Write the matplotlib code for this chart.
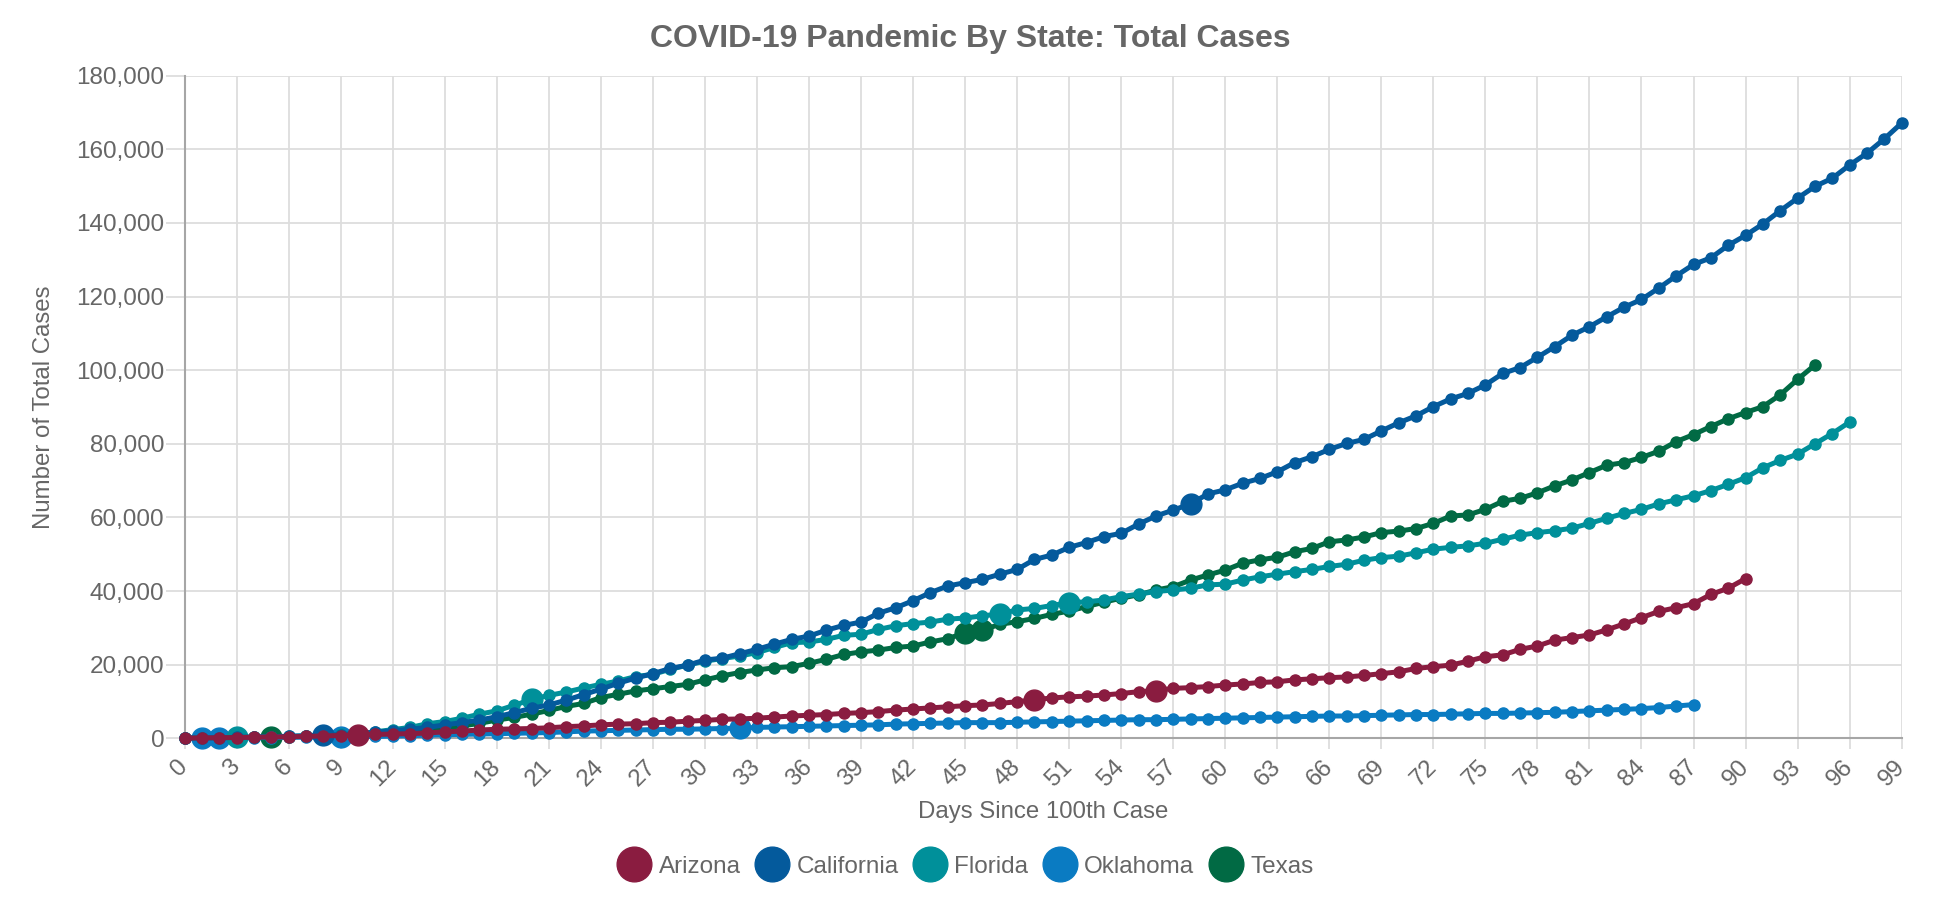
import numpy as np
import matplotlib.pyplot as plt
from matplotlib.lines import Line2D
from matplotlib.ticker import FuncFormatter

plt.rcParams['font.family'] = ['Liberation Sans', 'DejaVu Sans']

states = ['Arizona', 'California', 'Florida', 'Oklahoma', 'Texas']
colors = ['#8a1c40', '#045a9c', '#00909a', '#0a7bc2', '#016a44']

# total cases in thousands, one value per day since the 100th case
arizona = [0.10, 0.15, 0.20, 0.25, 0.32, 0.40, 0.45, 0.55, 0.70, 0.80,
           0.92, 1.1, 1.2, 1.3, 1.5, 1.8, 2.0, 2.3, 2.5, 2.6,
           2.7, 2.9, 3.2, 3.4, 3.7, 3.9, 4.0, 4.3, 4.4, 4.7,
           4.9, 5.2, 5.3, 5.5, 5.8, 6.1, 6.3, 6.5, 6.8, 7.0,
           7.3, 7.7, 8.0, 8.3, 8.6, 8.9, 9.1, 9.5, 10.0, 10.5,
           11.0, 11.3, 11.5, 11.8, 12.2, 12.7, 13.0, 13.6, 13.8, 14.1,
           14.5, 14.8, 15.2, 15.4, 15.9, 16.2, 16.5, 16.7, 17.1, 17.6,
           18.1, 19.0, 19.5, 19.9, 21.0, 22.2, 22.7, 24.2, 25.1, 26.7,
           27.4, 28.1, 29.5, 31.1, 32.8, 34.5, 35.5, 36.6, 39.1, 40.8,
           43.4]
california = [0.10, 0.15, 0.20, 0.30, 0.40, 0.50, 0.60, 0.70, 0.90, 1.05,
              1.3, 1.7, 2.1, 2.5, 3.0, 3.7, 4.3, 5.0, 5.9, 7.0,
              8.2, 9.1, 10.4, 11.9, 13.4, 15.0, 16.4, 17.6, 19.0, 19.9,
              21.3, 21.8, 23.0, 24.2, 25.6, 26.9, 27.8, 29.4, 30.7, 31.6,
              34.0, 35.5, 37.4, 39.6, 41.4, 42.3, 43.2, 44.6, 45.9, 48.6,
              49.8, 51.9, 53.2, 54.8, 55.7, 58.2, 60.4, 62.0, 63.7, 66.4,
              67.5, 69.3, 70.6, 72.4, 74.9, 76.5, 78.5, 80.1, 81.2, 83.5,
              85.7, 87.6, 90.1, 92.2, 93.7, 96.0, 99.1, 100.7, 103.5, 106.4,
              109.5, 111.8, 114.5, 117.1, 119.2, 122.3, 125.6, 128.7, 130.5, 133.9,
              136.6, 139.7, 143.3, 146.7, 149.9, 152.1, 155.7, 158.9, 162.8, 167.1]
florida = [0.10, 0.15, 0.20, 0.30, 0.35, 0.45, 0.55, 0.75, 0.90, 1.1,
           1.3, 1.8, 2.4, 3.0, 4.0, 4.6, 5.5, 6.6, 7.5, 9.0,
           10.6, 11.7, 12.6, 13.7, 14.7, 15.6, 16.8, 17.4, 18.8, 19.9,
           21.0, 21.7, 22.4, 23.3, 24.7, 26.0, 26.2, 26.9, 28.0, 28.3,
           29.6, 30.6, 31.2, 31.6, 32.4, 32.7, 33.3, 33.8, 34.9, 35.3,
           36.1, 36.9, 37.1, 37.6, 38.5, 39.2, 39.9, 40.3, 40.8, 41.7,
           41.9, 43.0, 43.9, 44.6, 45.3, 45.9, 46.7, 47.3, 48.4, 49.1,
           49.5, 50.4, 51.4, 51.9, 52.3, 53.0, 54.1, 55.2, 55.9, 56.4,
           57.1, 58.4, 59.8, 61.1, 62.2, 63.7, 64.8, 65.9, 67.3, 69.0,
           70.8, 73.5, 75.5, 77.2, 80.0, 82.8, 85.9]
oklahoma = [0.10, 0.12, 0.15, 0.18, 0.20, 0.25, 0.30, 0.35, 0.40, 0.45,
            0.50, 0.55, 0.65, 0.75, 0.90, 1.0, 1.1, 1.2, 1.3, 1.4,
            1.5, 1.6, 1.8, 2.0, 2.1, 2.2, 2.3, 2.4, 2.5, 2.5,
            2.6, 2.7, 2.8, 3.0, 3.1, 3.2, 3.3, 3.4, 3.5, 3.6,
            3.7, 3.9, 4.0, 4.1, 4.2, 4.3, 4.3, 4.3, 4.4, 4.5,
            4.6, 4.7, 4.8, 4.9, 5.0, 5.1, 5.1, 5.2, 5.3, 5.4,
            5.5, 5.6, 5.7, 5.8, 5.9, 6.0, 6.1, 6.1, 6.2, 6.3,
            6.4, 6.5, 6.5, 6.6, 6.7, 6.8, 6.8, 6.9, 7.0, 7.1,
            7.3, 7.5, 7.7, 7.9, 8.1, 8.4, 8.8, 9.2]
texas = [0.10, 0.15, 0.20, 0.25, 0.30, 0.40, 0.50, 0.60, 0.75, 0.90,
         1.1, 1.4, 1.9, 2.1, 2.5, 3.0, 3.4, 4.1, 5.0, 5.7,
         6.6, 7.6, 8.7, 9.5, 11.1, 12.0, 12.9, 13.5, 14.1, 14.7,
         15.9, 17.0, 17.9, 18.6, 19.2, 19.5, 20.4, 21.5, 22.8, 23.5,
         24.0, 24.7, 25.1, 26.2, 27.1, 28.7, 29.4, 31.0, 31.7, 32.6,
         33.7, 34.6, 35.8, 37.0, 38.1, 39.0, 40.3, 41.2, 43.0, 44.4,
         45.7, 47.6, 48.5, 49.2, 50.7, 51.6, 53.4, 53.9, 54.7, 55.9,
         56.3, 57.0, 58.4, 60.4, 60.7, 62.2, 64.4, 65.2, 66.7, 68.6,
         70.2, 72.2, 74.2, 74.9, 76.3, 78.0, 80.6, 82.5, 84.7, 86.8,
         88.5, 90.1, 93.3, 97.5, 101.4]

# days drawn with an enlarged point
big_points = {
    'Arizona': [10, 49, 56],
    'California': [8, 58],
    'Florida': [3, 20, 47, 51],
    'Oklahoma': [1, 2, 9, 32],
    'Texas': [5, 45, 46],
}

series = [arizona, california, florida, oklahoma, texas]
grey = '#666666'

fig = plt.figure(figsize=(19.52, 9.10), dpi=100)
ax = fig.add_axes([0.0946, 0.1885, 0.8796, 0.7285])

for i, (name, vals, col) in enumerate(zip(states, series, colors)):
    y = np.array(vals) * 1000
    x = np.arange(len(y))
    z = 10 - i
    ax.plot(x, y, '-o', color=col, lw=3.6, ms=8, zorder=z, clip_on=False)
    idx = big_points[name]
    ax.plot(x[idx], y[idx], 'o', color=col, ms=15, ls='none', zorder=z, clip_on=False)

ax.set_xlim(0, 99)
ax.set_ylim(0, 180000)
ax.set_xticks(range(0, 100, 3))
ax.set_yticks(range(0, 180001, 20000))
ax.yaxis.set_major_formatter(FuncFormatter(lambda v, p: f'{int(v):,}'))
ax.set_xticklabels([str(d) for d in range(0, 100, 3)], rotation=45,
                   ha='right', va='center', rotation_mode='anchor')

ax.grid(True, color='#dddddd', lw=1.3, zorder=0)
ax.set_axisbelow(True)
for s in ['top', 'right']:
    ax.spines[s].set_visible(False)
for s in ['left', 'bottom']:
    ax.spines[s].set_color('#a6a6a6')
    ax.spines[s].set_linewidth(1.5)
ax.tick_params(axis='y', length=14, color='#dddddd', width=1.3, pad=0.5,
               labelsize=17.5, labelcolor=grey)
ax.tick_params(axis='x', length=8, color='#dddddd', width=1.3, pad=10,
               labelsize=17.5, labelcolor=grey)

fig.text(0.497, 0.9575, 'COVID-19 Pandemic By State: Total Cases', ha='center',
         va='center', fontsize=23, fontweight='bold', color=grey)
fig.text(0.0225, 0.552, 'Number of Total Cases', rotation=90, ha='center',
         va='center', fontsize=17.3, color=grey)
fig.text(0.5343, 0.1075, 'Days Since 100th Case', ha='center', va='center',
         fontsize=17.3, color=grey)

handles = [Line2D([], [], marker='o', ls='none', color=c, ms=25) for c in colors]
fig.legend(handles, states, loc='center', bbox_to_anchor=(0.4955, 0.0478),
           ncol=5, frameon=False, fontsize=17.5, labelcolor=grey,
           handletextpad=0.45, columnspacing=0.75, handlelength=1.1)

fig.savefig('out.png', dpi=100)
